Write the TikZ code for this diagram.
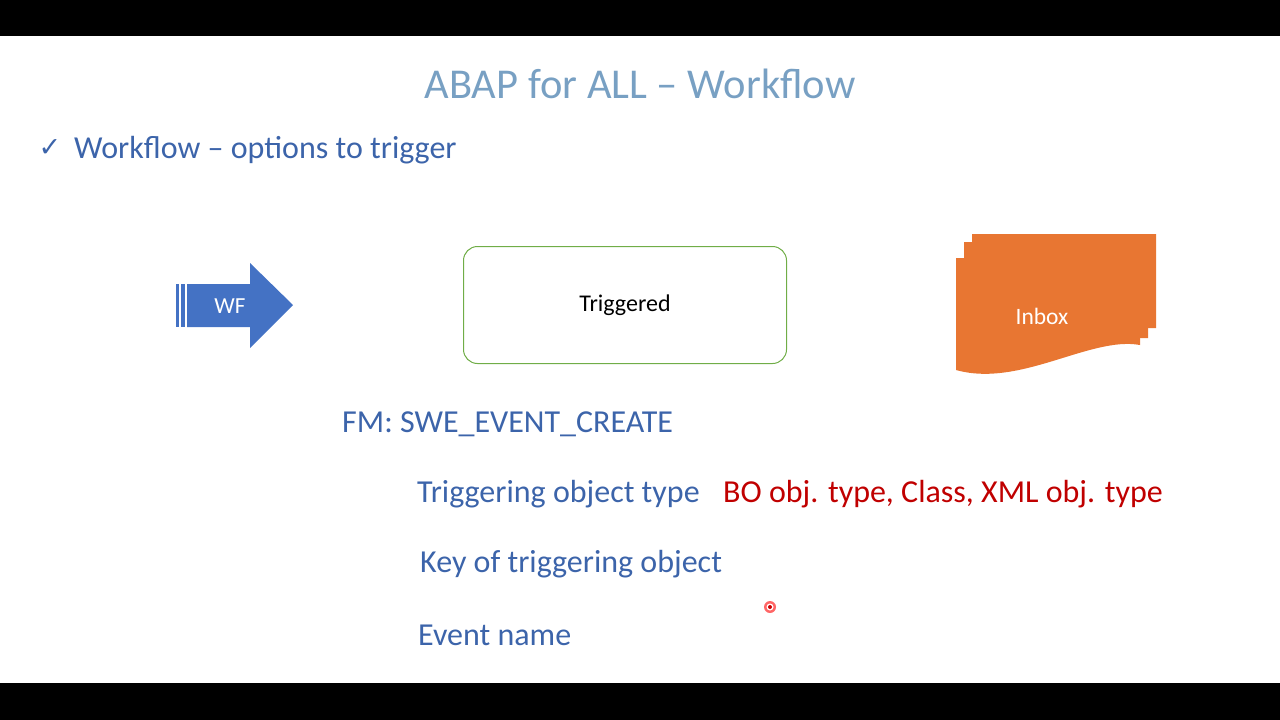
\documentclass[tikz,border=0pt]{standalone}
\usepackage{fontspec}
\setmainfont{Carlito}
\newfontfamily\symf{DejaVu Sans}
\begin{document}
\begin{tikzpicture}[x=1pt,y=-1pt,
  txt/.style={text=blueT,anchor=west,inner sep=0pt,font=\fontsize{32}{36}\selectfont},
  doc/.style={fill=orangeD,draw=none}]
\definecolor{blueT}{RGB}{60,100,170}
\definecolor{titleC}{RGB}{120,160,195}
\definecolor{arrowB}{RGB}{68,114,196}
\definecolor{orangeD}{RGB}{232,118,50}
\definecolor{greenB}{RGB}{112,173,71}
\definecolor{redT}{RGB}{192,0,0}
\useasboundingbox (0,0) rectangle (1280,720);
\fill[black] (0,0) rectangle (1280,36);
\fill[black] (0,683) rectangle (1280,720);
\node[text=titleC,font=\fontsize{42.5}{48}\selectfont,inner sep=0pt] (title) at (640,84) {ABAP for ALL – Workflow};
\node[text=blueT,font=\symf\fontsize{27}{30}\selectfont,inner sep=0pt] (chk) at (50,148) {✓};
\node[txt] (opt) at (74,150) {Workflow – options to trigger};
% WF arrow
\fill[arrowB] (176,284) rectangle (179,327);
\fill[arrowB] (181,284) rectangle (185,327);
\fill[arrowB] (187,284) -- (250,284) -- (250,263) -- (293,305) -- (250,348) -- (250,327) -- (187,327) -- cycle;
\node[text=white,font=\fontsize{23}{26}\selectfont] (wf) at (230,306) {WF};
% Triggered box
\node[draw=greenB,line width=1pt,rounded corners=14pt,minimum width=323pt,minimum height=117pt,font=\fontsize{24}{28}\selectfont] (trig) at (625,305) {Triggered};
% Inbox
\fill[doc] (972,234) -- (1156,234) -- (1156,328) -- (1148,328) -- (1148,258) -- (964,258) -- (964,242) -- (972,242) -- cycle;
\fill[doc] (964,242) -- (1148,242) -- (1148,338) -- (1140,338) -- (1140,258) -- (956,258) -- (964,258) -- cycle;
\fill[doc] (956,258) -- (1140,258) -- (1140,345) .. controls (1090,336) and (1020,388) .. (956,370) -- cycle;
\node[text=white,font=\fontsize{23.5}{26}\selectfont] (inbox) at (1042,316) {Inbox};
% texts
\node[txt] (fm) at (342,424) {FM: SWE\_EVENT\_CREATE};
\node[txt] (tot) at (417,494) {Triggering object type};
\node[txt,text=redT] (bo) at (723,494) {BO obj. type, Class, XML obj. type};
\node[txt] (key) at (420,564) {Key of triggering object};
\node[txt] (ev) at (418,635) {Event name};
% pointer dot
\fill[red!60] (770,607) circle (6);
\fill[white] (770,607) circle (3.5);
\fill[red!80!black] (770,607) circle (2);
\end{tikzpicture}
\end{document}
